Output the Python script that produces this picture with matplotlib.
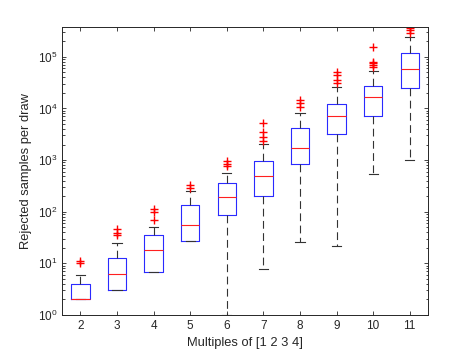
import numpy as np
import matplotlib
matplotlib.use("Agg")
import matplotlib.pyplot as plt

multiples = [2, 3, 4, 5, 6, 7, 8, 9, 10, 11]
medians = [2, 6.1, 18, 54, 194, 500, 1740, 7100, 17000, 59500]
q1 = [2, 3, 6.7, 27, 88, 205, 845, 3170, 7100, 24700]
q3 = [4, 12.5, 35, 134, 366, 975, 4270, 12400, 27800, 121000]
whis_lo = [2, 3, 6.7, 27, 1, 7.8, 26, 21.5, 540, 1000]
whis_hi = [6, 25, 50, 250, 560, 2050, 8300, 26500, 54000, 240000]
outliers = [
    [10, 11.3],
    [36, 39, 46],
    [69, 98, 115],
    [285, 330],
    [775, 845, 980],
    [2350, 2850, 3550, 5350],
    [10900, 12600, 14700],
    [30900, 35800, 44700, 51900],
    [65000, 70000, 75000, 81000, 158000],
    [290000, 330000, 370000, 410000],
]

plt.rcParams['font.family'] = ['Liberation Sans', 'DejaVu Sans']

fig = plt.figure(figsize=(4.74, 3.55), dpi=100)
ax = fig.add_axes([0.131, 0.113, 0.772, 0.811])

stats = []
for i, m in enumerate(multiples):
    stats.append(dict(med=medians[i], q1=q1[i], q3=q3[i],
                      whislo=whis_lo[i], whishi=whis_hi[i],
                      fliers=outliers[i], label=str(m)))

ax.bxp(stats, positions=np.arange(1, len(multiples) + 1), widths=0.5,
       capwidths=0.25,
       boxprops=dict(color='#2a2aff', linewidth=0.8),
       medianprops=dict(color='#ff2020', linewidth=0.8),
       whiskerprops=dict(color='#333333', linestyle=(0, (7, 4)), linewidth=0.8),
       capprops=dict(color='#333333', linewidth=0.8),
       flierprops=dict(marker='+', markeredgecolor='#ff0000', markersize=6,
                       linestyle='none', markeredgewidth=1.0))

ax.set_yscale('log')
ax.set_ylim(1, 3.8e5)
ax.set_xlim(0.5, len(multiples) + 0.5)
ax.set_xticks(np.arange(1, len(multiples) + 1))
ax.set_xticklabels([str(m) for m in multiples])

ax.tick_params(axis='both', which='both', direction='in', top=True, right=True,
               labelsize=8.5, colors='#262626', width=0.6)
ax.tick_params(axis='x', which='minor', top=False, bottom=False)
ax.tick_params(axis='both', which='major', length=3)
ax.tick_params(axis='y', which='minor', length=1.8)
for s in ax.spines.values():
    s.set_color('#262626')
    s.set_linewidth(0.7)

ax.set_xlabel('Multiples of [1 2 3 4]', fontsize=9.3, color='#262626')
ax.set_ylabel('Rejected samples per draw', fontsize=9.3, color='#262626')

fig.savefig('out.png', dpi=100)
